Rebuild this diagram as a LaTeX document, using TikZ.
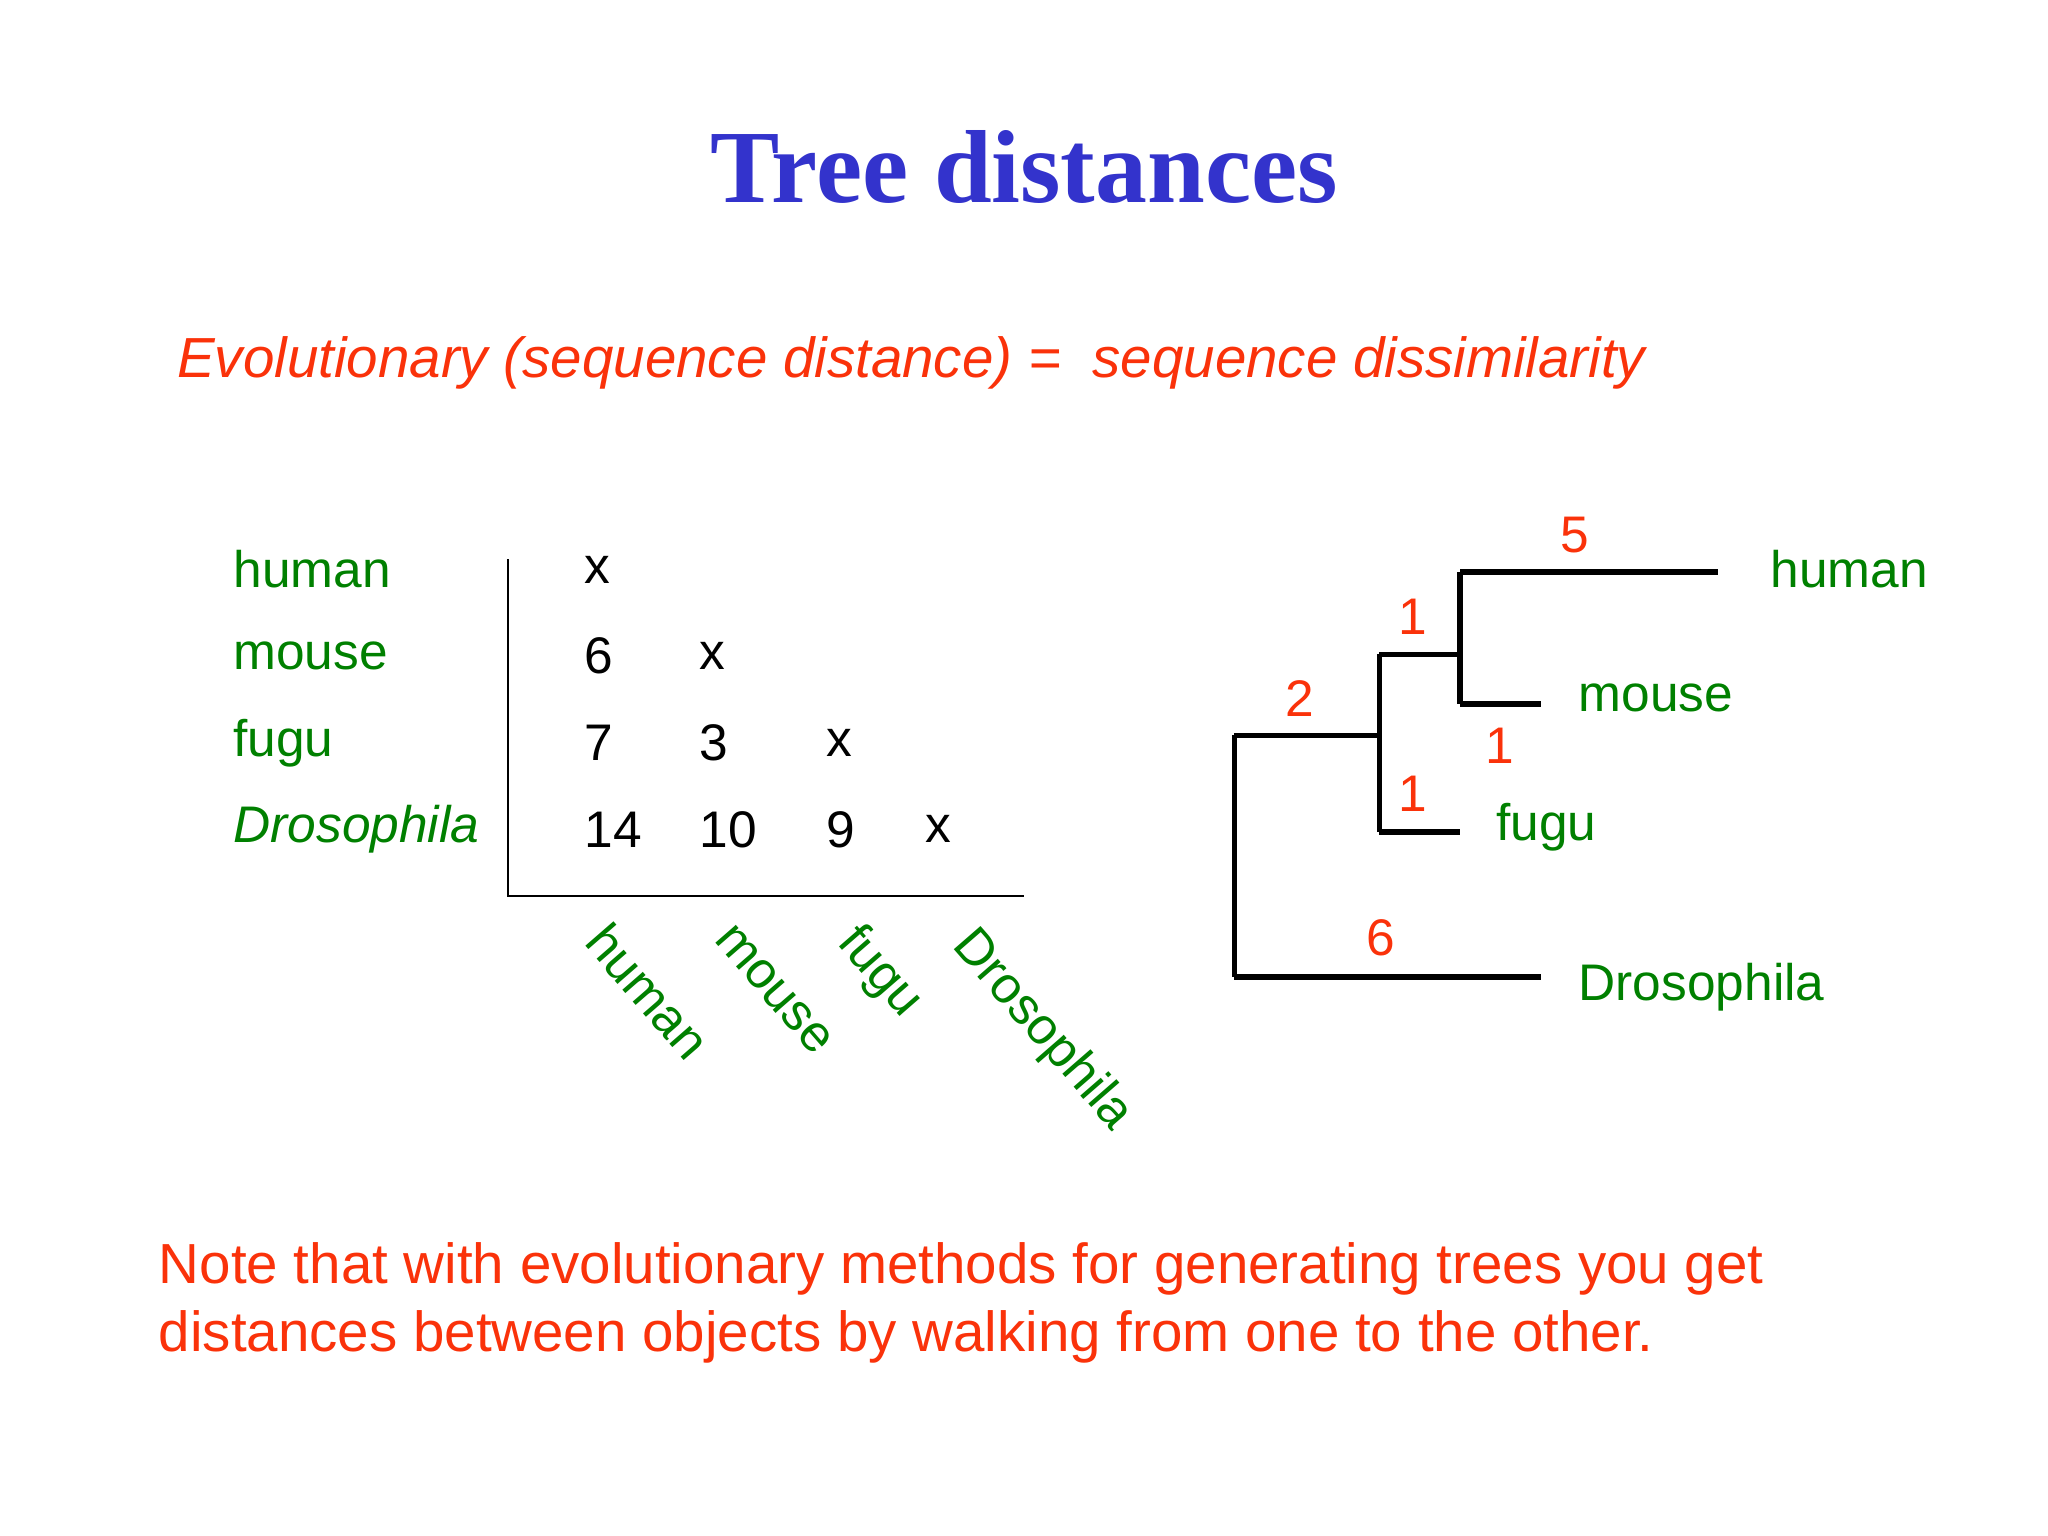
\documentclass[tikz,border=0pt]{standalone}
\usepackage{fontspec}
\setmainfont{Liberation Sans}
\newfontfamily\titlefont{Liberation Serif}
\definecolor{tgreen}{RGB}{0,128,0}
\definecolor{tred}{RGB}{250,50,10}
\definecolor{tblue}{RGB}{51,51,204}
\begin{document}
\begin{tikzpicture}[x=0.01cm,y=-0.01cm,
  lab/.style={text=tgreen,font=\fontsize{11.2}{13}\selectfont,anchor=west,inner sep=0},
  num/.style={text=black,font=\fontsize{11.2}{13}\selectfont,anchor=west,inner sep=0},
  blen/.style={text=tred,font=\fontsize{11.2}{13}\selectfont,inner sep=0},
  br/.style={line width=1.2pt}]
\useasboundingbox (0,0) rectangle (1568,1176);
\node[text=tblue,font=\titlefont\bfseries\fontsize{22.6}{26}\selectfont] (title) at (784,128) {Tree distances};
\node[text=tred,font=\itshape\fontsize{12.3}{14}\selectfont,anchor=west,inner sep=0] (sub) at (135,278) {Evolutionary (sequence distance) =\ \ sequence dissimilarity};
% row labels
\node[lab] (rh) at (178,436) {human};
\node[lab] (rm) at (178,502) {mouse};
\node[lab] (rf) at (178,569) {fugu};
\node[lab,font=\itshape\fontsize{11.2}{13}\selectfont] (rd) at (178,635) {Drosophila};
% axes
\coordinate (ot) at (389,428); \coordinate (o) at (389,686); \coordinate (oe) at (784,686);
\draw[line width=0.6pt] (ot) -- (o) -- (oe);
% matrix
\node[num] (m11) at (447,436) {x};
\node[num] (m21) at (447,502) {6};
\node[num] (m22) at (535,502) {x};
\node[num] (m31) at (447,569) {7};
\node[num] (m32) at (535,569) {3};
\node[num] (m33) at (632,569) {x};
\node[num] (m41) at (447,635) {14};
\node[num] (m42) at (535,635) {10};
\node[num] (m43) at (632,635) {9};
\node[num] (m44) at (708,635) {x};
% column labels
\node[lab,rotate=-49,anchor=north west] (ch) at (468,703) {human};
\node[lab,rotate=-49,anchor=north west] (cm) at (562,705) {mouse};
\node[lab,rotate=-49,anchor=north west] (cf) at (662,703) {fugu};
\node[lab,rotate=-49,anchor=north west] (cd) at (750,705) {Drosophila};
% tree
\coordinate (r1) at (945,563); \coordinate (r2) at (945,748);
\coordinate (d) at (1180,748);
\coordinate (a1) at (1056,563); \coordinate (a2) at (1056,501); \coordinate (a3) at (1056,637);
\coordinate (f) at (1118,637);
\coordinate (b1) at (1118,501); \coordinate (b2) at (1118,438); \coordinate (b3) at (1118,539);
\coordinate (h) at (1315,438); \coordinate (m) at (1180,539);
\draw[br] (r1) -- (r2);
\draw[br] (r2) -- (d);
\draw[br] (r1) -- (a1);
\draw[br] (a2) -- (a3);
\draw[br] (a3) -- (f);
\draw[br] (a2) -- (b1);
\draw[br] (b2) -- (b3);
\draw[br] (b2) -- (h);
\draw[br] (b3) -- (m);
\node[lab] (th) at (1355,436) {human};
\node[lab] (tm) at (1208,534) {mouse};
\node[lab] (tf) at (1145,633) {fugu};
\node[lab] (td) at (1208,756) {Drosophila};
\node[blen] (l5) at (1206,410) {5};
\node[blen] (l1a) at (1082,472) {1};
\node[blen] (l2) at (995,535) {2};
\node[blen] (l1b) at (1148,571) {1};
\node[blen] (l1c) at (1082,608) {1};
\node[blen] (l6) at (1057,718) {6};
% note
\node[text=tred,font=\fontsize{12.3}{14.8}\selectfont,anchor=north west,align=left,inner sep=0] (note) at (121,951) {Note that with evolutionary methods for generating trees you get\\distances between objects by walking from one to the other.};
\end{tikzpicture}
\end{document}
